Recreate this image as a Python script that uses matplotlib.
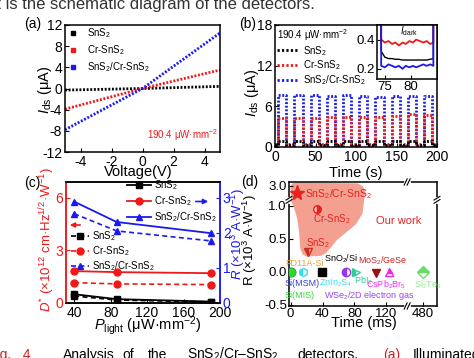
import matplotlib.pyplot as plt
from matplotlib.lines import Line2D
from matplotlib.patches import Polygon, FancyArrowPatch
from matplotlib.transforms import Bbox, TransformedBbox

plt.rcParams['font.family'] = ['Liberation Sans', 'DejaVu Sans']
plt.rcParams['mathtext.fontset'] = 'custom'
plt.rcParams['mathtext.rm'] = 'Liberation Sans'
plt.rcParams['mathtext.it'] = 'Liberation Sans:italic'
plt.rcParams['mathtext.bf'] = 'Liberation Sans:bold'
plt.rcParams['axes.unicode_minus'] = False
plt.rcParams['xtick.direction'] = 'in'
plt.rcParams['ytick.direction'] = 'in'
plt.rcParams['xtick.major.size'] = 3
plt.rcParams['ytick.major.size'] = 3
plt.rcParams['axes.linewidth'] = 1.1
plt.rcParams['font.size'] = 10

W, H = 474, 358
RED = '#F01818'
BLUE = '#1A1AF0'
SNS2 = 'SnS$_2$'
CRSNS2 = 'Cr-SnS$_2$'
HET = 'SnS$_2$/Cr-SnS$_2$'

# (a) I-V curves under 190.4 uW/mm2
volt = [-5, 0, 5]
iv_sns2 = [-0.3, 0.0, 0.4]
iv_cr = [-3.9, 0.0, 3.5]
iv_het = [-7.8, 0.0, 10.5]

# (b) switching: light on/off times (s) and current levels (uA)
t_on = [4, 24, 44, 64, 84, 104, 124, 144, 164, 184]
t_off = [14, 34, 54, 74, 94, 114, 134, 154, 174, 194]
on_het = [7.7, 7.6, 7.6, 7.5, 7.7, 7.5, 7.4, 7.5, 7.5, 7.5]
on_cr = [4.3, 4.3, 4.3, 4.4, 4.4, 4.5, 4.5, 4.6, 4.8, 4.7]
on_sns2 = [0.85] * 10
dark_het, dark_cr, dark_sns2 = 0.22, 0.38, 0.27

# (b) inset: dark current between two pulses
t_dark = [74.3, 75.0, 75.7, 76.4, 77.0, 77.7, 78.4, 79.0, 79.7, 80.4, 81.0, 81.7, 82.4, 83.0, 83.7, 84.3]
idark_cr = [0.40, 0.38, 0.39, 0.37, 0.38, 0.36, 0.38, 0.37, 0.39, 0.38, 0.40, 0.39, 0.38, 0.39, 0.37, 0.38]
idark_sns2 = [0.32, 0.28, 0.27, 0.27, 0.265, 0.265, 0.26, 0.26, 0.26, 0.26, 0.26, 0.26, 0.26, 0.26, 0.265, 0.27]
idark_het = [0.22, 0.21, 0.23, 0.22, 0.21, 0.22, 0.20, 0.22, 0.21, 0.22, 0.21, 0.22, 0.23, 0.22, 0.23, 0.22]

# (c) responsivity (solid, right) and detectivity (dashed, left)
p_light = [40, 86.5, 190.4]
r_sns2 = [0.25, 0.11, 0.04]
r_cr = [0.91, 0.88, 0.85]
r_het = [2.89, 2.31, 1.99]
d_sns2 = [0.40, 0.17, 0.06]
d_cr = [1.16, 1.09, 1.05]
d_het = [5.09, 4.11, 3.54]

# (d) comparison: response time (ms) vs R (x10^3 A/W)
ours_t = [8.4, 33, 22]
ours_r = [2.89, 0.95, 0.30]
blob_t = [2, 8, 84, 90, 93.5, 93, 90, 82, 70, 58, 50, 44, 38, 20, 15, 12, 10.5, 8, 4, 1, 0, 0]
blob_r = [3.04, 3.05, 3.04, 3.0, 2.93, 2.86, 0.88, 0.72, 0.60, 0.48, 0.36, 0.28, 0.24, 0.23, 0.26, 0.36, 0.63, 0.82, 0.98, 1.06, 2.90, 3.0]
ref_names = ['FD11A-Si', 'Si(MSM)', 'Si(MIS)', 'ZnIn2S4', 'SnO2/Si', 'WSe2/2D', 'PbI2', 'MoS2/GeSe', 'CsPb2Br5', 'Si2Te3']
ref_t = [1, 1, 1, 15, 39, 70, 82, 107, 123, 480]
ref_r = [0, 0, 0, 0, 0, 0, 0, -0.02, 0, 0]
ref_colors = ['#F0A030', '#3344CC', '#22DD22', '#33DDEE', 'black', '#9933EE', '#33CC99', '#991111', '#EE22EE', '#66DD66']
ref_markers = ['o', 'o', 'h', 'h', 's', 'o', '>', 'v', '^', 'D']
ref_fill = ['full', 'full', 'full', 'left', 'full', 'left', 'left', 'full', 'top', 'top']

fig = plt.figure(figsize=(W / 100, H / 100), dpi=100)


def box(l, t, r, b):
    return [l / W, 1 - b / H, (r - l) / W, (b - t) / H]


def ftext(x, y, s, **kw):
    kw.setdefault('va', 'center')
    return fig.text(x / W, 1 - y / H, s, **kw)


dots = (0, (0.7, 0.6))

# ---------------- (a) ----------------
ax = fig.add_axes(box(65, 25, 220, 152))
for iv, c in [(iv_sns2, 'black'), (iv_cr, RED), (iv_het, BLUE)]:
    ax.plot(volt, iv, color=c, ls=dots, lw=2.0)
ax.set_xlim(-5, 5)
ax.set_ylim(-12, 12)
ax.set_xticks([-4, -2, 0, 2, 4])
ax.set_yticks(range(-12, 13, 4))
ax.tick_params(labelsize=10, pad=2)
hs = [Line2D([], [], ls='none', marker='s', ms=2.5, color=c) for c in ['black', RED, BLUE]]
ax.legend(hs, [SNS2, CRSNS2, HET], loc='upper left', bbox_to_anchor=(68 / W, 1 - 26 / H),
          bbox_transform=fig.transFigure, frameon=False, fontsize=7, handlelength=1.0,
          handletextpad=1.0, labelspacing=0.35, borderpad=0, borderaxespad=0)
ftext(147, 135, '190.4 μW·mm$^{-2}$', color=RED, fontsize=7)
ftext(45, 90, r'$I_{\rm ds}$ (μA)', rotation=90, ha='center', fontsize=10.5)
ftext(138, 172, 'Voltage(V)', ha='center', fontsize=10.5)
ftext(24, 24, '(a)', fontsize=10)

# ---------------- (b) ----------------
axb = fig.add_axes(box(275, 25, 437, 147))
for on, dark, c in [(on_het, dark_het, BLUE), (on_cr, dark_cr, RED), (on_sns2, dark_sns2, 'black')]:
    tt, yy = [0], [dark]
    for a, b, lv in zip(t_on, t_off, on):
        tt += [a, a, b, b]
        yy += [dark, lv, lv, dark]
    tt.append(200)
    yy.append(dark)
    axb.plot(tt, yy, color=c, ls=dots, lw=2.0)
axb.set_xlim(0, 200)
axb.set_ylim(0, 18)
axb.set_xticks(range(0, 201, 50))
axb.set_yticks([0, 6, 12, 18])
axb.tick_params(labelsize=10, pad=2)
hs = [Line2D([], [], ls=(0, (0.8, 0.8)), lw=2.0, color=c) for c in ['black', RED, BLUE]]
axb.legend(hs, [SNS2, CRSNS2, HET], title='190.4 μW·mm$^{-2}$', loc='upper left',
           bbox_to_anchor=(277 / W, 1 - 27 / H), bbox_transform=fig.transFigure,
           frameon=False, fontsize=7, title_fontsize=7, handlelength=2.3,
           handletextpad=0.4, labelspacing=0.1, borderpad=0, borderaxespad=0,
           alignment='left')
ftext(252, 93, r'$I_{\rm ds}$ (μA)', rotation=90, ha='center', fontsize=10.5)
ftext(356, 173, 'Time (s)', ha='center', fontsize=10.5)
ftext(239, 24, '(b)', fontsize=10)

axi = fig.add_axes(box(377, 25, 437, 79))
axi.plot([74.3] + t_dark + [84.3], [on_cr[3]] + idark_cr + [on_cr[4]], color=RED, lw=1.3)
axi.plot([74.3] + t_dark + [84.3], [on_sns2[3]] + idark_sns2 + [on_sns2[4]], color='black', lw=1.0)
axi.plot([74.3] + t_dark + [84.3], [on_het[3]] + idark_het + [on_het[4]], color=BLUE, lw=1.3)
axi.set_xlim(73.5, 85)
axi.set_ylim(0.13, 0.5)
axi.set_xticks([75, 80])
axi.set_yticks([0.2, 0.4])
axi.tick_params(labelsize=9.5, pad=1.5)
axi.text(79.6, 0.455, r'$I_{\rm dark}$', fontsize=7, ha='center', va='center')

# ---------------- (c) ----------------
axc = fig.add_axes(box(66, 182, 220, 303))
axr = axc.twinx()
for d, c, m in [(d_sns2, 'black', 's'), (d_cr, RED, 'o'), (d_het, BLUE, '^')]:
    axc.plot(p_light, d, color=c, marker=m, ms=5, ls=(0, (3, 2)), lw=1.2)
for r, c, m in [(r_sns2, 'black', 's'), (r_cr, RED, 'o'), (r_het, BLUE, '^')]:
    axr.plot(p_light, r, color=c, marker=m, ms=5, ls='-', lw=1.3)
axc.set_xlim(31, 200)
axc.set_ylim(0, 6.9)
axr.set_ylim(0, 3.45)
axc.set_xticks(range(40, 201, 40))
axc.set_yticks([0, 3, 6])
axr.set_yticks([0, 1, 2, 3])
axc.tick_params(axis='x', labelsize=10, pad=2)
axc.tick_params(axis='y', labelsize=10, colors=RED, pad=2)
axr.tick_params(axis='y', labelsize=10, colors=BLUE, pad=2)
for a in (axc, axr):
    a.spines['left'].set_color(RED)
    a.spines['right'].set_color(BLUE)
hs = [Line2D([], [], color=c, marker=m, ms=5, lw=1.3) for c, m in [('black', 's'), (RED, 'o'), (BLUE, '^')]]
axr.legend(hs, [SNS2, CRSNS2, HET], loc='upper left', bbox_to_anchor=(127 / W, 1 - 178 / H),
           bbox_transform=fig.transFigure, frameon=False, fontsize=7, handlelength=2.5,
           handletextpad=0.3, labelspacing=0.25, borderpad=0, borderaxespad=0)
hs = [Line2D([], [], color=c, marker=m, ms=5, lw=1.2, ls=(0, (3, 2))) for c, m in [('black', 's'), (RED, 'o'), (BLUE, '^')]]
axc.legend(hs, [SNS2, CRSNS2, HET], loc='upper left', bbox_to_anchor=(71 / W, 1 - 229 / H),
           bbox_transform=fig.transFigure, frameon=False, fontsize=7, handlelength=1.9,
           handletextpad=0.3, labelspacing=0.12, borderpad=0, borderaxespad=0)
fig.add_artist(FancyArrowPatch((193 / W, 1 - 201.5 / H), (211 / W, 1 - 201.5 / H),
               transform=fig.transFigure, arrowstyle='-|>', mutation_scale=7, color=BLUE, lw=1.2))
fig.add_artist(FancyArrowPatch((83 / W, 1 - 225 / H), (67 / W, 1 - 225 / H),
               transform=fig.transFigure, arrowstyle='-|>', mutation_scale=7, color=RED, lw=1.2))
ftext(47, 240, r'$D^{*}$ (×10$^{12}$ cm·Hz$^{1/2}$·W$^{-1}$)', rotation=90, ha='center', color=RED, fontsize=9.5)
lab = ftext(238, 234, r'$R$ (×10$^3$ A·W$^{-1}$)', rotation=90, ha='center', color=BLUE, fontsize=9.5)
lab.set_clip_box(TransformedBbox(Bbox([[0, 0], [243 / W, 1]]), fig.transFigure))
lab.set_clip_on(True)
ftext(148, 326, r'$P_{\rm light}$ (μW·mm$^{-2}$)', ha='center', fontsize=10.5)
ftext(24, 183, '(c)', fontsize=10)

# ---------------- (d) ----------------


def t_plot(t):
    return t if t < 300 else t - 314.5


def r_plot(v):
    return v if v < 2 else v - 1.7


axd = fig.add_axes(box(289, 182, 437, 306))
axd.add_patch(Polygon([(t_plot(a), r_plot(b)) for a, b in zip(blob_t, blob_r)], closed=True,
                      facecolor='#F4A090', edgecolor='none', zorder=1))
for n, t, r, c, m, f in zip(ref_names, ref_t, ref_r, ref_colors, ref_markers, ref_fill):
    axd.plot(t_plot(t), r_plot(r), marker=m, color=c, ms=6, fillstyle=f,
             markerfacecoloralt='white', ls='none', zorder=3)
axd.plot(t_plot(ours_t[0]), r_plot(ours_r[0]), marker='*', color='#E82020', ms=11, ls='none', zorder=3)
axd.plot(t_plot(ours_t[1]), r_plot(ours_r[1]), marker='o', color='#E82020', ms=5.5, fillstyle='right',
         markerfacecoloralt='#F8C8C0', ls='none', zorder=3)
axd.plot(t_plot(ours_t[2]), r_plot(ours_r[2]), marker='v', color='#C83020', ms=6, fillstyle='left',
         markerfacecoloralt='#F0A080', ls='none', zorder=3)
axd.set_xlim(-2, 183.4)
axd.set_ylim(-0.52, 1.36)
axd.set_xticks([t_plot(v) for v in [0, 40, 80, 120, 480]])
axd.set_xticklabels(['0', '40', '80', '120', '480'])
axd.set_yticks([r_plot(v) for v in [-0.5, 0, 0.5, 1.0, 3.0]])
axd.set_yticklabels(['-0.5', '0.0', '0.5', '1.0', '3.0'])
axd.tick_params(labelsize=9.5, pad=1.5)
# axis breaks
yb = (1.09 + 0.52) / 1.88
xb = (146 + 2) / 185.4
for x0 in (0, 1):
    axd.plot([x0, x0], [yb - 0.015, yb + 0.015], transform=axd.transAxes, color='white', lw=2, clip_on=False, zorder=5)
    for dy in (-0.013, 0.013):
        axd.plot([x0 - 0.02, x0 + 0.02], [yb + dy - 0.015, yb + dy + 0.015], transform=axd.transAxes,
                 color='black', lw=0.8, clip_on=False, zorder=6)
for y0 in (0, 1):
    axd.plot([xb - 0.012, xb + 0.012], [y0, y0], transform=axd.transAxes, color='white', lw=2, clip_on=False, zorder=5)
    for dx in (-0.01, 0.01):
        axd.plot([xb + dx - 0.01, xb + dx + 0.01], [y0 - 0.025, y0 + 0.025], transform=axd.transAxes,
                 color='black', lw=0.8, clip_on=False, zorder=6)

ftext(305, 194, HET, color='#E52222', fontsize=7.5)
ftext(313, 219, CRSNS2, color='#E52222', fontsize=7)
ftext(306, 243, SNS2, color='#E52222', fontsize=7)
ftext(376, 221, 'Our work', color='#E52222', fontsize=8)
ftext(285, 263, 'FD11A-Si', color='#F0A030', fontsize=6.5)
ftext(324, 259, 'SnO$_2$/Si', color='black', fontsize=6.5)
ftext(358, 261, 'MoS$_2$/GeSe', color='#CC2222', fontsize=6.5)
ftext(285, 283, 'Si(MSM)', color='#3344CC', fontsize=6.5)
ftext(319, 283, 'ZnIn$_2$S$_4$', color='#33DDEE', fontsize=6.5)
ftext(354, 281, 'PbI$_2$', color='#33CC99', fontsize=6.5)
ftext(366, 285, 'CsPb$_2$Br$_5$', color='#EE33EE', fontsize=6.5)
ftext(414, 285, 'Si$_2$Te$_3$', color='#88EE88', fontsize=6.5)
ftext(285, 295, 'Si(MIS)', color='#33DD33', fontsize=6.5)
ftext(324, 295, 'WSe$_2$/2D electron gas', color='#9944EE', fontsize=6.5)
ftext(250, 240, r'R (×10$^3$ A·W$^{-1}$)', rotation=90, ha='center', fontsize=9.5)
ftext(364, 323, 'Time (ms)', ha='center', fontsize=10.5)
ftext(241, 182, '(d)', fontsize=10)

# ---------------- captions ----------------
ftext(315, 9, 'Inset is the schematic diagram of the detectors.', ha='right', va='baseline',
      fontsize=12, color='#333333')
ftext(30, 359, 'Fig.   4', ha='right', va='baseline', fontsize=10, color='#D02020')
for x, s, c in [(63, 'Analysis', 'black'), (122, 'of', 'black'), (148, 'the', 'black'),
                (187, 'SnS$_2$/Cr–SnS$_2$', 'black'), (297, 'detectors.', 'black'),
                (383, '(a)', '#D02020'), (413, 'Illuminated', 'black')]:
    ftext(x, 359, s, va='baseline', fontsize=10, color=c)

fig.savefig('out.png', dpi=100)
